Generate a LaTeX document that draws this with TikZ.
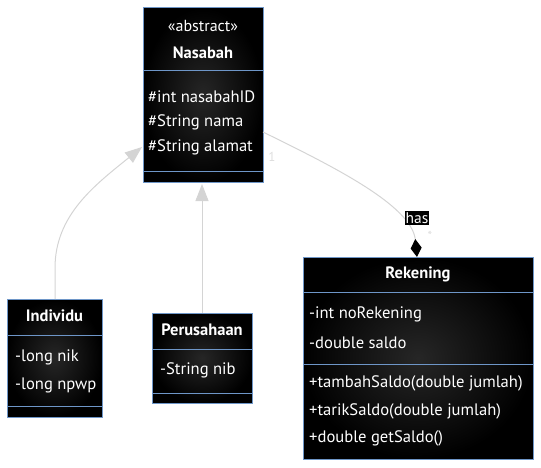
\documentclass[tikz,border=0pt]{standalone}
\usepackage{fontspec}
\setmainfont{PT Sans}
\usetikzlibrary{arrows.meta}
\definecolor{bord}{RGB}{110,150,200}
\definecolor{lnk}{RGB}{212,212,212}
\definecolor{faint}{RGB}{222,222,222}
\begin{document}
\begin{tikzpicture}[x=1pt,y=-1pt,
 cls/.style={draw=bord, line width=1pt, inner color=black!85, outer color=black, anchor=north west, inner sep=0pt, outer sep=0pt},
 sepline/.style={draw=bord, line width=1pt},
 ttl/.style={text=white, font=\fontsize{16.5}{18}\selectfont\bfseries, inner sep=0pt},
 ster/.style={text=white, font=\fontsize{16}{18}\selectfont, inner sep=0pt},
 mem/.style={text=white, font=\fontsize{16.6}{18}\selectfont, anchor=west, inner sep=0pt},
 link/.style={draw=lnk, line width=1pt},
 inh/.style={link, -{Triangle[length=17pt,width=13pt,fill=lnk,color=lnk]}},
 comp/.style={link, -{Diamond[length=18pt,width=11pt,fill=black,color=black]}},
 lbl/.style={fill=black, text=white, font=\fontsize{15.5}{16}\selectfont, inner sep=1pt},
 card/.style={text=faint, font=\fontsize{13}{15}\selectfont, inner sep=0pt}
]
\useasboundingbox (0,0) rectangle (541,468);

% Nasabah
\node[cls, minimum width=120pt, minimum height=175pt] (nas) at (143,8) {};
\draw[sepline] (nas.west |- 0,71) -- (nas.east |- 0,71);
\draw[sepline] (nas.west |- 0,172) -- (nas.east |- 0,172);
\node[ster] (nasS) at (203,26) {«abstract»};
\node[ttl] (nasT) at (203,53) {Nasabah};
\node[mem] (nas1) at (148,97) {\#int nasabahID};
\node[mem] (nas2) at (148,122) {\#String nama};
\node[mem] (nas3) at (148,147) {\#String alamat};

% Individu
\node[cls, minimum width=95pt, minimum height=118pt] (ind) at (7,299) {};
\draw[sepline] (ind.west |- 0,335) -- (ind.east |- 0,335);
\draw[sepline] (ind.west |- 0,406) -- (ind.east |- 0,406);
\node[ttl] (indT) at (54.5,316) {Individu};
\node[mem] (ind1) at (15,357) {-long nik};
\node[mem] (ind2) at (15,385) {-long npwp};

% Perusahaan
\node[cls, minimum width=100pt, minimum height=90pt] (per) at (152,313) {};
\draw[sepline] (per.west |- 0,349) -- (per.east |- 0,349);
\draw[sepline] (per.west |- 0,393) -- (per.east |- 0,393);
\node[ttl] (perT) at (202,330) {Perusahaan};
\node[mem] (per1) at (160,370) {-String nib};

% Rekening
\node[cls, minimum width=230pt, minimum height=202pt] (rek) at (303,257) {};
\draw[sepline] (rek.west |- 0,292) -- (rek.east |- 0,292);
\draw[sepline] (rek.west |- 0,364) -- (rek.east |- 0,364);
\node[ttl] (rekT) at (418,274) {Rekening};
\node[mem] (rek1) at (309,314) {-int noRekening};
\node[mem] (rek2) at (309,343) {-double saldo};
\node[mem] (rek3) at (309,383) {+tambahSaldo(double jumlah)};
\node[mem] (rek4) at (309,411) {+tarikSaldo(double jumlah)};
\node[mem] (rek5) at (309,438) {+double getSaldo()};

% connectors
\coordinate (indStart) at (55,299);
\coordinate (indTip) at (142,147);
\coordinate (perStart) at (202,313);
\coordinate (perTip) at (202,184);
\coordinate (hasStart) at (263,132);
\coordinate (hasEnd) at (417,257);
\draw[inh] (indStart) -- (55,268) .. controls (55,215) and (95,185) .. (indTip);
\draw[inh] (perStart) -- (perTip);
\draw[comp] (hasStart) .. controls (330,165) and (412,205) .. (hasEnd);
\node[lbl] (has) at (417,218) {has};
\node[card] (c1) at (272,157) {1};
\node[card] (c2) at (430,236) {*};
\end{tikzpicture}
\end{document}
